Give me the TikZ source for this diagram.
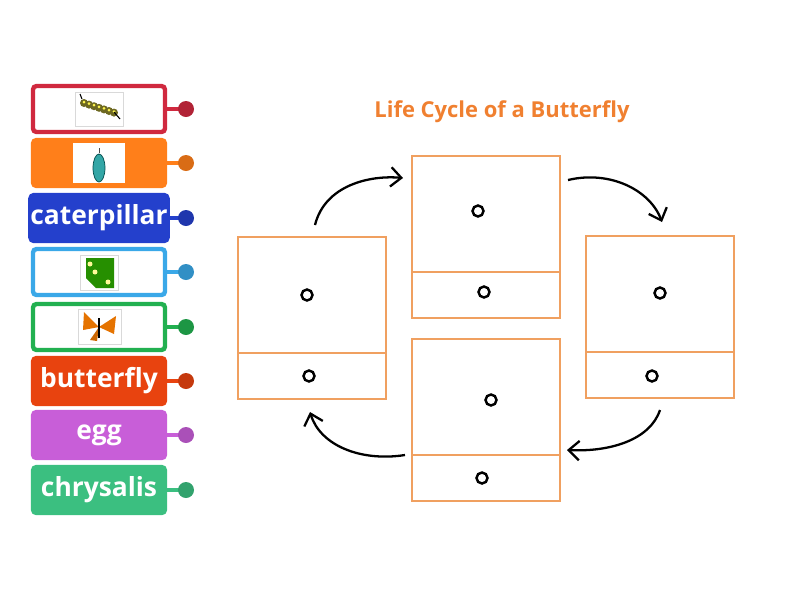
\documentclass[tikz,border=0pt]{standalone}
\usepackage{fontspec}
\setmainfont{Open Sans}
\usetikzlibrary{arrows.meta,calc}
\definecolor{cRed}{HTML}{D0293F}
\definecolor{cOrange}{HTML}{FF7F1A}
\definecolor{cBlue}{HTML}{2440CC}
\definecolor{cSky}{HTML}{3AA8E8}
\definecolor{cGreen}{HTML}{22B050}
\definecolor{cRust}{HTML}{E8430F}
\definecolor{cPurple}{HTML}{C85ED8}
\definecolor{cTeal}{HTML}{3BBF80}
\definecolor{boxline}{HTML}{F0A060}
\definecolor{title}{HTML}{F08030}
\tikzset{
  tile/.style={draw=#1,fill=#1,line width=2.5pt,rounded corners=2pt,minimum width=132*0.02cm,minimum height=46*0.02cm,inner sep=0pt,text=white,font=\bfseries\fontsize{15}{15}\selectfont},
  imgtile/.style={tile=#1,fill=white},
  pin/.style={line width=2.5pt,draw=#1},
  drop/.style={draw=boxline,line width=0.9pt},
  hole/.style={draw=black,line width=1.4pt,fill=white},
  cycle arrow/.style={line width=1.3pt,-{Straight Barb[length=6pt,width=11pt]}}
}
\begin{document}
\begin{tikzpicture}[x=0.02cm,y=-0.02cm]
\useasboundingbox (0,0) rectangle (800,600);
% tiles on the left
\foreach \n/\y/\c/\t/\img in {t1/109/cRed//1,t2/163/cOrange//0,t3/218/cBlue/caterpillar/0,t4/272/cSky//1,t5/327/cGreen//1,t6/381/cRust/butterfly/0,t7/435/cPurple/egg/0,t8/490/cTeal/chrysalis/0}{
  \ifnum\img=1
    \node[imgtile=\c] (\n) at (99,\y) {};
  \else
    \node[tile=\c] (\n) at (99,\y) {\t};
  \fi
  \coordinate (\n dot) at (186,\y);
  \draw[pin=\c] (\n.east) -- (\n dot);
  \fill[\c!85!black] (\n dot) circle (8);
}
% pictures
\fill[white] (73,143) rectangle (125,183);
\draw[gray!30] (75,92) rectangle (123,126);
\draw[gray!30] (80,255) rectangle (118,290);
\draw[gray!30] (78,309) rectangle (121,344);
% caterpillar
\foreach \i in {0,...,6}{\fill[olive!70!black] ($(84,103)+(\i*5,\i*1.6)$) circle (4);
  \fill[yellow!70!white] ($(84,102)+(\i*5,\i*1.6)$) circle (1.5);}
\draw[black,line width=0.6pt] (82,99) -- (80,94) (114,112) -- (120,119);
% chrysalis
\draw[black!70] (99,148) -- (99,153);
\fill[teal!50!cyan!60!gray] (99,168) ellipse (6 and 14);
\draw[teal!60!black,line width=0.4pt] (99,168) ellipse (6 and 14);
% eggs on leaf
\fill[green!45!black!80!lime] (86,258) -- (114,258) -- (114,288) -- (96,288) -- (86,278) -- cycle;
\foreach \p in {(90,264),(95,272),(108,282)}{\fill[yellow!40!white] \p circle (2.5);}
% butterfly
\fill[orange!90!black] (99,327) -- (84,312) -- (83,330) -- cycle;
\fill[orange!90!black] (99,327) -- (116,316) -- (114,334) -- cycle;
\fill[orange!80!black] (99,327) -- (90,340) -- (97,341) -- cycle;
\draw[black,line width=1pt] (99,318) -- (99,338);
% title
\node[text=title,font=\bfseries\fontsize{12.5}{12.5}\selectfont] (ttl) at (502,112) {Life Cycle of a Butterfly};
% drop boxes
\foreach \n/\x/\y/\px/\py/\qx/\qy in {A/238/237/307/295/309/376,B/412/156/478/211/484/292,C/586/236/660/293/652/376,D/412/339/491/400/482/478}{
  \draw[drop] (\x,\y) rectangle ++(148,162);
  \draw[drop] (\x,\y+116) -- ++(148,0);
  \draw[hole] (\px,\py) circle (5.5);
  \draw[hole] (\qx,\qy) circle (5.5);
}
% arrows
\draw[cycle arrow] (315,225) .. controls (325,185) and (370,175) .. (403,178);
\draw[cycle arrow] (568,180) .. controls (610,170) and (650,190) .. (662,222);
\draw[cycle arrow] (660,410) .. controls (650,440) and (610,452) .. (567,450);
\draw[cycle arrow] (405,455) .. controls (360,462) and (320,445) .. (310,412);
\end{tikzpicture}
\end{document}
